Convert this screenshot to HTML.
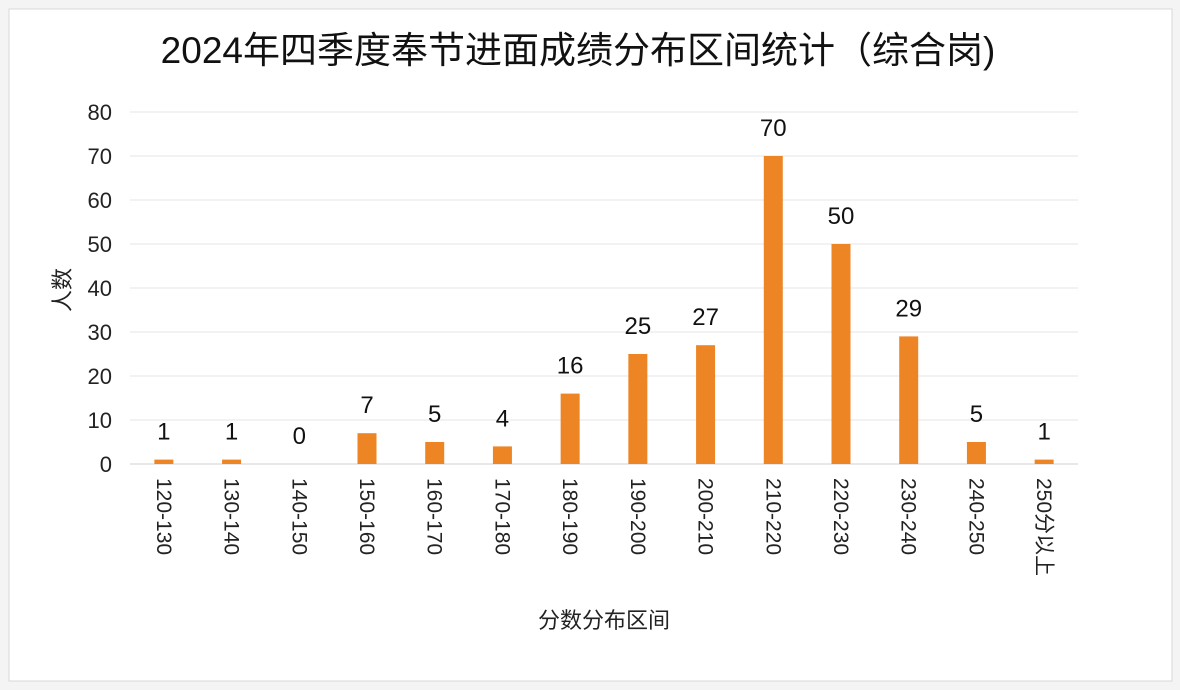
<!DOCTYPE html>
<html><head><meta charset="utf-8"><style>
body{margin:0;background:#f4f4f4;}
svg{display:block;font-family:"Liberation Sans","Noto Sans CJK SC",sans-serif;}
</style></head><body>
<svg id="c" width="1180" height="690">
<rect x="9" y="9" width="1163" height="672" fill="#fff" stroke="#d8d8d8"/>
<text x="578" y="63" text-anchor="middle" font-size="37" fill="#111">2024年四季度奉节进面成绩分布区间统计（综合岗)</text>
<text transform="translate(70,290) rotate(-90)" text-anchor="middle" font-size="22" fill="#222">人数</text>
<text x="604" y="628" text-anchor="middle" font-size="22" fill="#222">分数分布区间</text>
<g id="grid"></g><g id="bars"></g>
</svg>
<script>
const categories=["120-130","130-140","140-150","150-160","160-170","170-180","180-190","190-200","200-210","210-220","220-230","230-240","240-250","250分以上"];
const values=[1,1,0,7,5,4,16,25,27,70,50,29,5,1];
const yTicks=[0,10,20,30,40,50,60,70,80];
const svg=document.getElementById('c'),NS="http://www.w3.org/2000/svg";
const x0=130,x1=1078,y0=464,yMax=80,plotH=352;
const y=v=>y0-v/yMax*plotH;
const step=(x1-x0)/categories.length;
const xc=i=>x0+step*(i+0.5);
function mk(t,a,p){const e=document.createElementNS(NS,t);for(const k in a)e.setAttribute(k,a[k]);(p||svg).appendChild(e);return e;}
const g=document.getElementById('grid'),b=document.getElementById('bars');
yTicks.forEach(v=>{
 const l=mk('line',{x1:x0,x2:x1,y1:y(v),y2:y(v),stroke:v===0?'#d0d0d0':'#e4e4e4','stroke-width':1},g);
 
 
 const t=mk('text',{x:112,y:y(v)+8,'text-anchor':'end','font-size':22,fill:'#222'},g);
 t.textContent=v;
 
 
});
categories.forEach((c,i)=>{
 const cx=xc(i),bw=19;
 const r=mk('rect',{x:cx-bw/2,y:y(values[i]),width:bw,height:Math.max(0,y0-y(values[i])),fill:'#ed8525'},b);
 
 
 const t=mk('text',{x:cx,y:y(values[i])-20,'text-anchor':'middle','font-size':24,fill:'#111'},b);
 t.textContent=values[i];
 
 
 const xl=mk('text',{transform:`translate(${cx-7},478) rotate(90)`,'font-size':21,fill:'#222'},b);
 xl.textContent=c;
 
 
});
</script>
</body></html>
